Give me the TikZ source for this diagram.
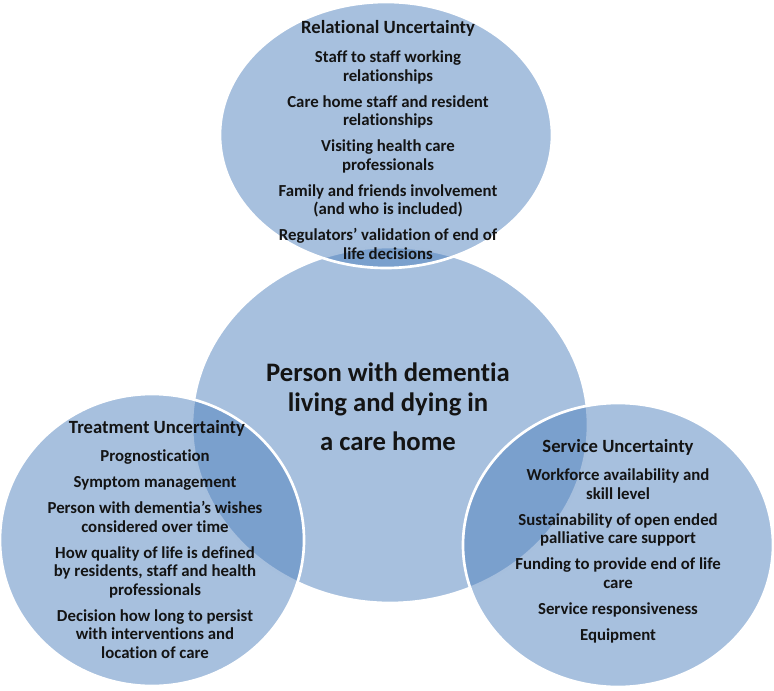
\documentclass[tikz,border=0pt]{standalone}
\usepackage{fontspec}
\setmainfont[Ligatures=NoCommon]{Carlito}
\usetikzlibrary{shapes.geometric}
\definecolor{ovalblue}{RGB}{79,129,189}
\definecolor{textgrey}{RGB}{20,20,20}

\begin{document}
\begin{tikzpicture}[x=0.75pt,y=-0.75pt,
		oval/.style={ellipse,draw=white,line width=2pt,fill=ovalblue,fill opacity=0.5,inner sep=0pt},
		heading/.style={font=\fontsize{14}{16}\selectfont\bfseries,text=textgrey},
		items/.style={align=center,font=\fontsize{12.6}{13.9}\selectfont\bfseries,text=textgrey}]
			
			\useasboundingbox (0,0) rectangle (774,691);
			
			% the person in the middle, drawn first
			\node[oval,minimum width=297pt,minimum height=267pt] (person) at (390,425){};
			
			\node[oval,minimum width=249pt,minimum height=199.5pt] (relational) at (386,135){};
			
			\node[oval,minimum width=228pt,minimum height=219pt] (treatment) at (152,540){};
			
			\node[oval,minimum width=232.5pt,minimum height=213pt] (service) at (618,545){};
			
			\node[align=center,font=\fontsize{20}{22.5}\selectfont\bfseries,text=textgrey] (personlabel) at (388,407){Person with dementia\\living and dying in\\[6.75pt]a care home};
			
			% relational
			\node[heading] (relhead) at (388,28){Relational Uncertainty};
			\node[items] (rellist) at (388,155){Staff to staff working\\relationships\\[5.6pt]
				Care home staff and resident\\relationships\\[5.6pt]
				Visiting health care\\professionals\\[5.6pt]
				Family and friends involvement\\(and who is included)\\[5.6pt]
				Regulators’ validation of end of\\life decisions};
			
			% treatment
			\node[heading] (treathead) at (157,428){Treatment Uncertainty};
			\node[items] (treatlist) at (155,554){Prognostication\\[5.6pt]
				Symptom management\\[5.6pt]
				Person with dementia’s wishes\\considered over time\\[5.6pt]
				How quality of life is defined\\by residents, staff and health\\professionals\\[5.6pt]
				Decision how long to persist\\with interventions and\\location of care};
			
			% service
			\node[heading] (servhead) at (618,447){Service Uncertainty};
			\node[items] (servlist) at (618,556){Workforce availability and\\skill level\\[5.6pt]
				Sustainability of open ended\\palliative care support\\[5.6pt]
				Funding to provide end of life\\care\\[5.6pt]
				Service responsiveness\\[5.6pt]
				Equipment};
			
		\end{tikzpicture}
\end{document}
